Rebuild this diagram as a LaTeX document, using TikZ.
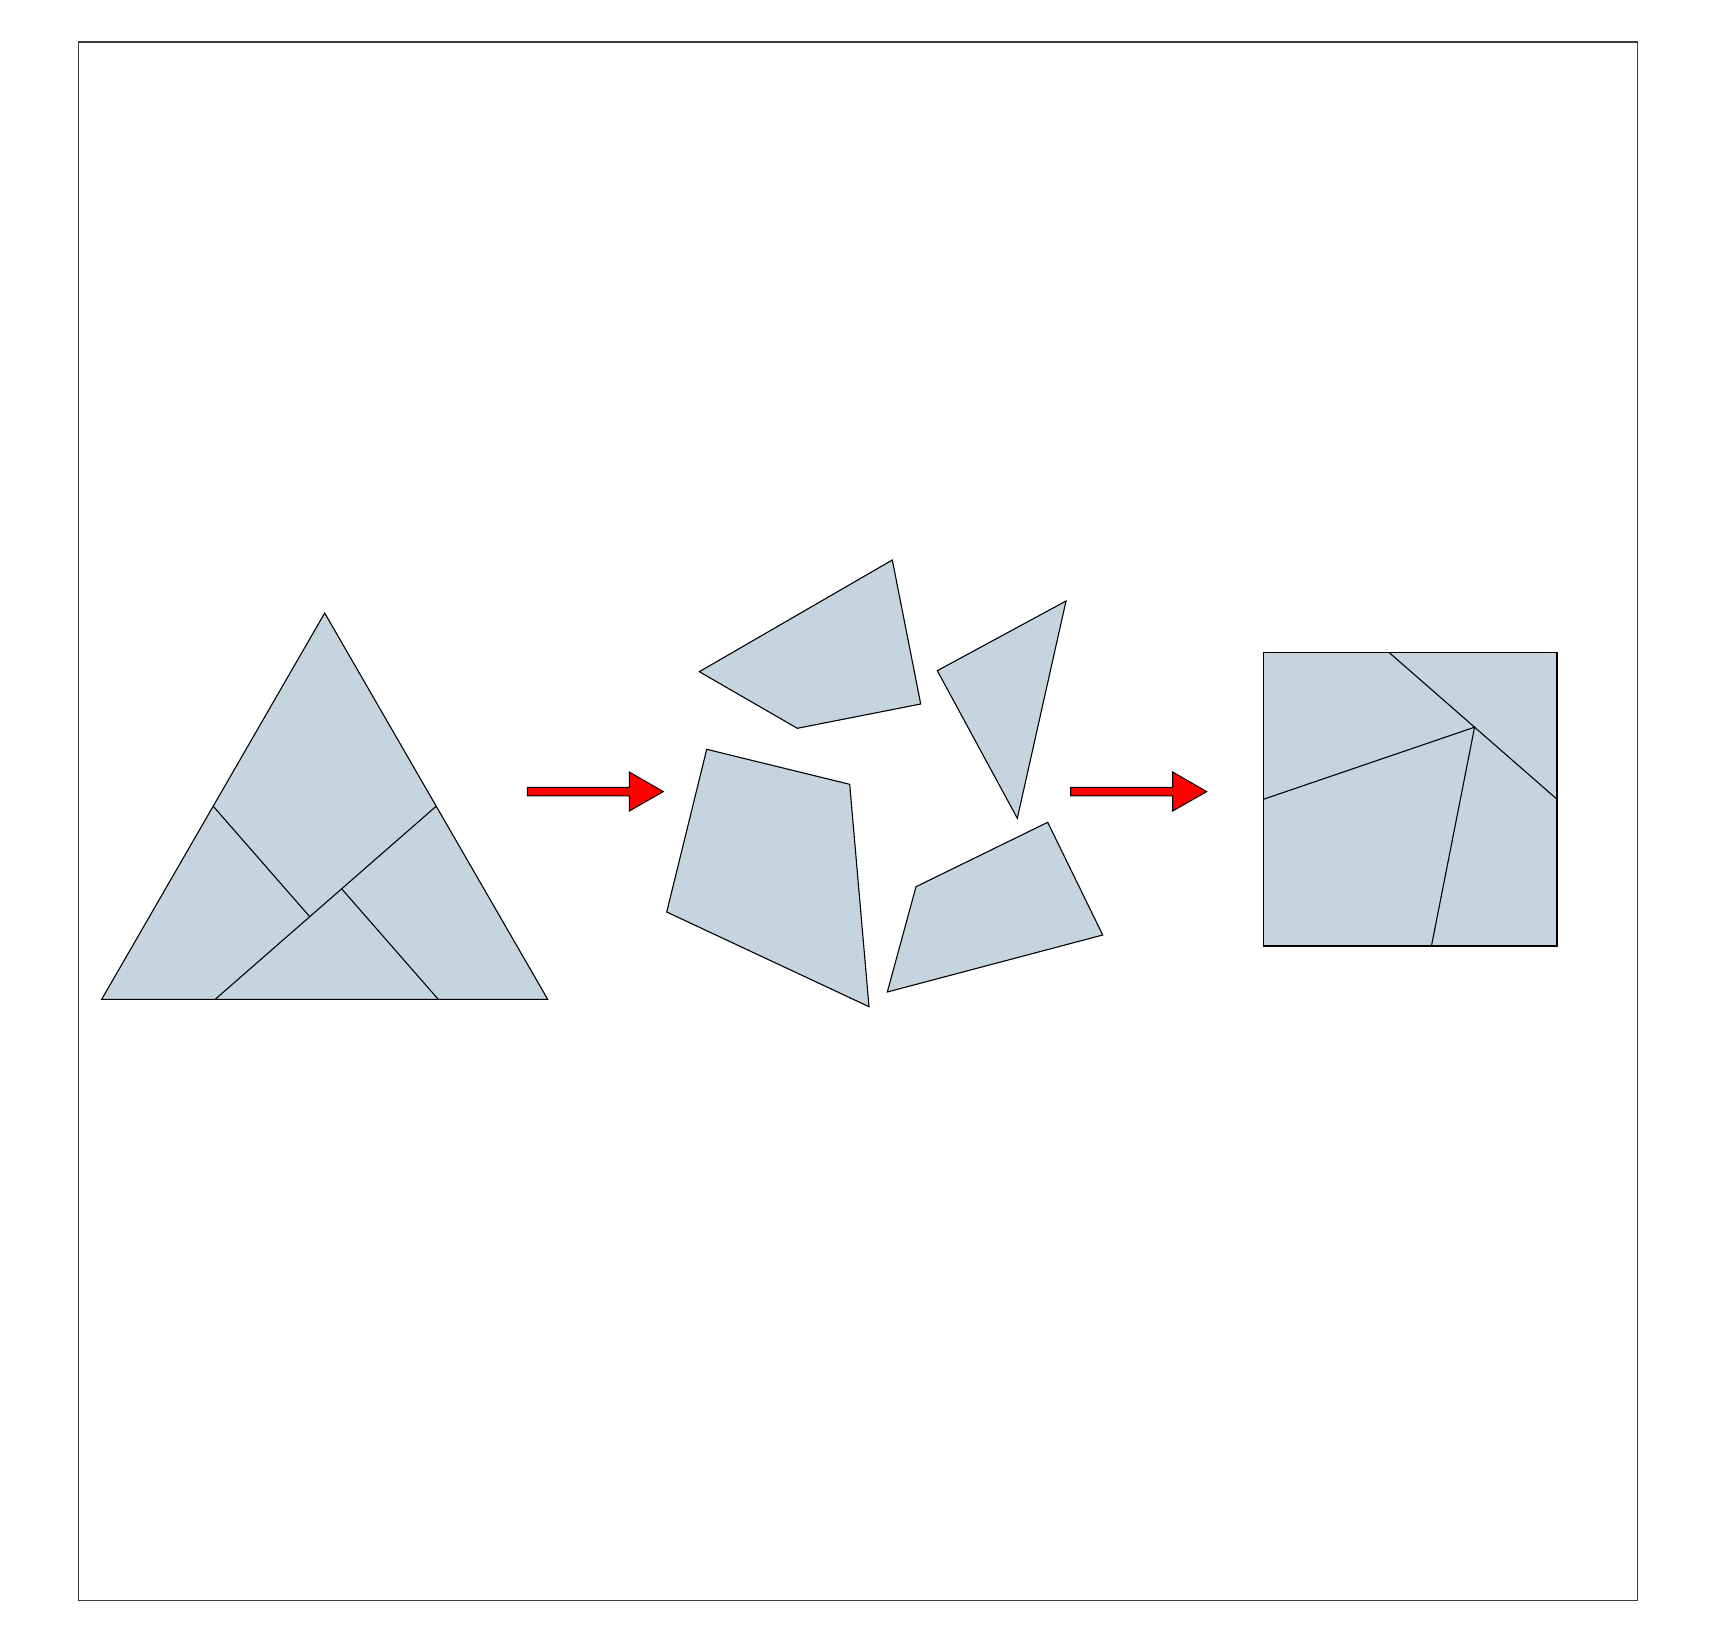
\documentclass[tikz,border=0pt]{standalone}
\usetikzlibrary{calc}
\definecolor{piecefill}{RGB}{197,213,224}
\definecolor{framegray}{RGB}{60,60,60}
\tikzset{
  piece/.style={fill=piecefill, draw=black, line width=0.55pt, line join=miter},
  cutline/.style={draw=black, line width=0.55pt},
  redarrow/.style={fill=red, draw=black, line width=0.5pt},
  frameline/.style={draw=framegray, line width=0.6pt}
}
\begin{document}
\begin{tikzpicture}[x=0.5pt,y=-0.5pt]
\useasboundingbox (0,0) rectangle (1716,1642);
\draw[frameline] (78.3,42) rectangle (1637.3,1600.7);

% ---- equilateral triangle ----
\coordinate (A) at (101.7,999.3);
\coordinate (B) at (547.7,999.3);
\coordinate (C) at (324.7,613.05);
\coordinate (D) at (213.2,806.2);
\coordinate (E) at (436.2,806.2);
\coordinate (F) at (215.21,999.3);
\coordinate (G) at (438.21,999.3);
\coordinate (J) at ($(F)!(D)!(E)$);
\coordinate (K) at ($(F)!(G)!(E)$);
\draw[piece] (A) -- (B) -- (C) -- cycle;
\draw[cutline] (F) -- (E);
\draw[cutline] (D) -- (J);
\draw[cutline] (G) -- (K);

% ---- arrows ----
\draw[redarrow] (527.3,787.3) -- (629.3,787.3) -- (629.3,772) -- (663.3,791.6)
  -- (629.3,811) -- (629.3,795.8) -- (527.3,795.8) -- cycle;
\draw[redarrow] (1070.7,787.3) -- (1172.7,787.3) -- (1172.7,772) -- (1206.7,791.6)
  -- (1172.7,811) -- (1172.7,795.8) -- (1070.7,795.8) -- cycle;

% ---- scattered pieces ----
\draw[piece] (699.3,671.7) -- (892.3,560) -- (920.7,704) -- (797.3,728.3) -- cycle;
\draw[piece] (937.3,670.7) -- (1066,601) -- (1017.3,818.3) -- cycle;
\draw[piece] (706.7,749.3) -- (849.7,784.3) -- (869,1006.7) -- (666.7,912) -- cycle;
\draw[piece] (1047.7,822.3) -- (1102.7,935) -- (887.3,992) -- (916,886.7) -- cycle;

% ---- square ----
\coordinate (S1) at (1263.5,652.5);
\coordinate (S2) at (1557,652.5);
\coordinate (S3) at (1557,946);
\coordinate (S4) at (1263.5,946);
\coordinate (T) at (1389.08,652.5);
\coordinate (R) at (1557,799.25);
\coordinate (L) at (1263.5,799.25);
\coordinate (Bq) at (1431.42,946);
\coordinate (X) at (1474.55,727.2);
\draw[piece] (S1) -- (S2) -- (S3) -- (S4) -- cycle;
\draw[cutline] (T) -- (R);
\draw[cutline] (L) -- (X) -- (Bq);
\end{tikzpicture}
\end{document}
